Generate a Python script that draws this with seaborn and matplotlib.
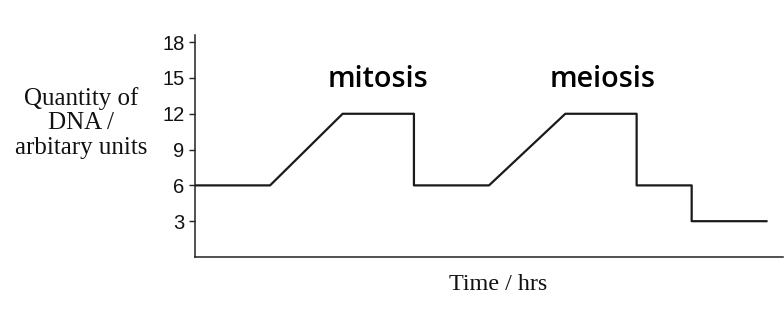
import matplotlib
matplotlib.use("Agg")
import matplotlib.pyplot as plt
import seaborn as sns
import pandas as pd

# Data (arbitrary time units, DNA quantity)
time_hrs = [0, 6, 11.8, 17.5, 17.5, 23.5, 29.6, 35.3, 35.3, 39.7, 39.7, 45.7]
dna_qty = [6, 6, 12, 12, 6, 6, 12, 12, 6, 6, 3, 3]
y_ticks = [3, 6, 9, 12, 15, 18]
phase_labels = ["mitosis", "meiosis"]
phase_x = [14.64, 32.6]
phase_y = [14.25, 14.25]

sns.set_theme(style="white")
plt.rcParams["font.family"] = ["Liberation Sans", "DejaVu Sans"]

df = pd.DataFrame({"time": time_hrs, "dna": dna_qty})

fig = plt.figure(figsize=(7.84, 3.24), dpi=100)
ax = fig.add_axes([195 / 784, 1 - 257 / 324, 588 / 784, (257 - 35) / 324])

sns.lineplot(data=df, x="time", y="dna", sort=False, estimator=None,
             color="#1a1a1a", linewidth=1.6, ax=ax)

ax.set_xlim(0, 47.0)
ax.set_ylim(0, 18.6)
ax.set_yticks(y_ticks)
ax.set_yticklabels([str(v) for v in y_ticks], fontsize=14.5, color="#111111")
ax.set_xticks([])
ax.tick_params(axis="y", which="both", left=True, length=4.5, width=1.0,
               color="#222222", pad=3)
for s in ["top", "right"]:
    ax.spines[s].set_visible(False)
for s in ["left", "bottom"]:
    ax.spines[s].set_color("#222222")
    ax.spines[s].set_linewidth(1.1)
ax.set_xlabel("")
ax.set_ylabel("")

for lab, x, y in zip(phase_labels, phase_x, phase_y):
    ax.text(x, y, lab, ha="center", va="baseline", fontsize=20.8,
            family=["Open Sans", "DejaVu Sans"], fontweight="semibold", color="#000000")

fig.text(81 / 784, 1 - 123 / 324, "Quantity of\nDNA /\narbitary units",
         ha="center", va="center", fontsize=18, linespacing=1.15,
         family=["Liberation Serif", "DejaVu Serif"], color="#111111")
fig.text(498 / 784, 1 - 285 / 324, "Time / hrs", ha="center", va="center",
         fontsize=17.4, family=["Liberation Serif", "DejaVu Serif"], color="#111111")

fig.savefig("out.png", dpi=100)
